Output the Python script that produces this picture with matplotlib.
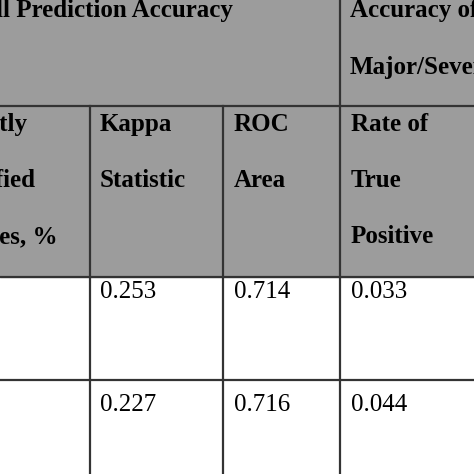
import matplotlib
matplotlib.use("Agg")
import matplotlib.pyplot as plt
from matplotlib.patches import Rectangle

top_headers = [["ll Prediction Accuracy"], ["Accuracy of", "Major/Severe"]]
col_headers = [["ctly", "ified", "ces, %"], ["Kappa", "Statistic"], ["ROC", "Area"], ["Rate of", "True", "Positive"]]
kappa = ["0.253", "0.227"]
roc = ["0.714", "0.716"]
tpr = ["0.033", "0.044"]

fig = plt.figure(figsize=(4.74, 4.74), dpi=100)
ax = fig.add_axes([0, 0, 1, 1])
ax.set_xlim(0, 474); ax.set_ylim(474, 0); ax.axis("off")
gray = "#9c9c9c"
ax.add_patch(Rectangle((0, 0), 474, 277, color=gray, zorder=0))
lc = "#333333"; lw = 1.6
for y in [106, 277, 380]:
    ax.plot([0, 474], [y, y], color=lc, lw=lw)
ax.plot([340, 340], [0, 474], color=lc, lw=lw)
for x in [90, 223]:
    ax.plot([x, x], [106, 474], color=lc, lw=lw)

font = dict(family="Liberation Serif", fontsize=18)
def txt(x, y0, lines, bold=False, step=56):
    for i, s in enumerate(lines):
        ax.text(x, y0 + i * step, s, ha="left", va="baseline",
                fontweight="bold" if bold else "normal", clip_on=True, **font)

txt(-4, 17, top_headers[0], True)
txt(350, 17, top_headers[1], True, step=57)
xs = [-12, 100, 234, 351]
for x, s in zip(xs, col_headers):
    txt(x, 131, s, True)
for r, y in enumerate([298, 411]):
    txt(100, y, [kappa[r]]); txt(234, y, [roc[r]]); txt(351, y, [tpr[r]])
fig.savefig("out.png", dpi=100)
